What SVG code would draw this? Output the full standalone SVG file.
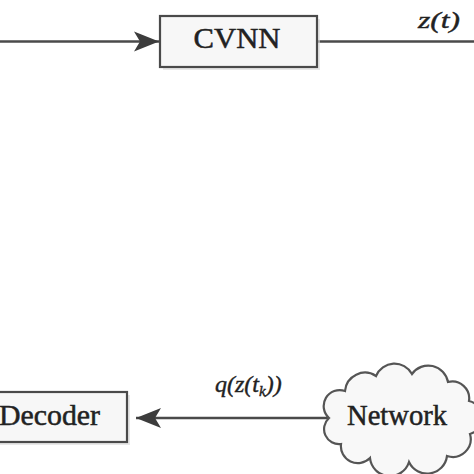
<svg xmlns="http://www.w3.org/2000/svg" width="474" height="474" viewBox="0 0 474 474">
<style>
.box{fill:#f7f7f7;stroke:#4a4a4a;stroke-width:2.2}
.shadow{fill:#d8d8d8;opacity:0.6}
text{font-family:"Liberation Serif","Times New Roman",serif}
.lbl{fill:#222;font-size:30px;stroke:#222;stroke-width:0.5}
.math{font-style:italic;fill:#222;font-size:24px;stroke:#222;stroke-width:0.4}
.conn{stroke:#4a4a4a;stroke-width:2.5;fill:none}
</style>
<defs>
<marker id="arr" viewBox="-26 -11 27 22" markerWidth="27" markerHeight="22" refX="0" refY="0" orient="auto" markerUnits="userSpaceOnUse">
<path d="M0,0 L-25,-10 L-19,0 L-25,10 Z" fill="#3c3c3c"/>
</marker>
</defs>
<rect width="474" height="474" fill="#ffffff"/>
<g id="connectors">
<line class="conn" x1="0" y1="41.5" x2="159" y2="41.5" marker-end="url(#arr)"/>
<line class="conn" x1="317" y1="41.5" x2="474" y2="41.5"/>
<line class="conn" x1="328" y1="418" x2="136" y2="418" marker-end="url(#arr)"/>
<text class="math" x="418" y="28" textLength="42" lengthAdjust="spacingAndGlyphs">z(t)</text>
<text class="math" x="215" y="392" font-size="26">q(z(t<tspan font-size="15" dy="4">k</tspan><tspan dy="-4">))</tspan></text>
</g>
<g id="cvnn">
<rect class="shadow" x="163" y="19" width="157" height="51"/>
<rect class="box" x="160" y="16" width="157" height="51"/>
<text class="lbl" x="237" y="48" text-anchor="middle" textLength="87" lengthAdjust="spacingAndGlyphs">CVNN</text>
</g>
<g id="decoder">
<rect class="shadow" x="-20" y="395" width="150" height="50"/>
<rect class="box" x="-25" y="392" width="152" height="50"/>
<text class="lbl" x="-1" y="425" textLength="101" lengthAdjust="spacingAndGlyphs">Decoder</text>
</g>
<g id="network">
<path d="M329,418 A16,16 0 0 1 345,391 A20,20 0 0 1 376,376 A20,20 0 0 1 412,374 A20,20 0 0 1 448,382 A17,17 0 0 1 469,401 A17,17 0 0 1 470,434 A18,18 0 0 1 447,456 A20,20 0 0 1 409,462 A20,20 0 0 1 370,458 A17,17 0 0 1 341,444 A15,15 0 0 1 329,418 Z" fill="#f8f8f8" stroke="#555" stroke-width="2.2"/>
<text class="lbl" x="397" y="425" text-anchor="middle" textLength="100" lengthAdjust="spacingAndGlyphs">Network</text>
</g>
</svg>
